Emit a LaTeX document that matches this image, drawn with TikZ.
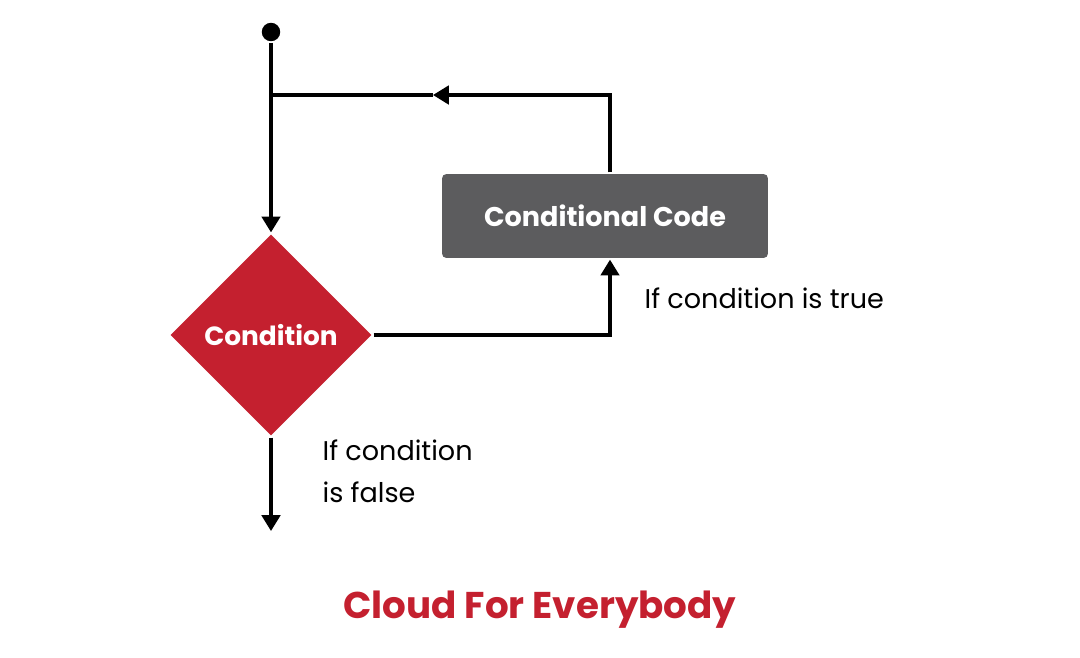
\documentclass[tikz,border=0pt]{standalone}
\usepackage{fontspec}
\setmainfont{Poppins}
\usetikzlibrary{arrows.meta,shapes.geometric}
\definecolor{cfered}{HTML}{C4202F}
\definecolor{codegrey}{HTML}{5C5C5E}

\begin{document}
\begin{tikzpicture}[x=0.02cm,y=-0.02cm,line width=1.9pt,>={Triangle[length=9pt,width=10.5pt]},
  flowline/.style={draw=black,line width=1.9pt},
  lbl/.style={font=\fontsize{15.4}{24}\selectfont,align=left,inner sep=0pt}]
\useasboundingbox (0,0) rectangle (1080,657);
% start
\node[circle,fill=black,inner sep=0pt,minimum size=10.5pt] (start) at (271,32) {};
\coordinate (join) at (271,95);
\coordinate (rt) at (610,95);
\coordinate (mid) at (433,95);
\coordinate (stop) at (271,531);
% condition and code
\node[diamond,fill=cfered,aspect=1,inner sep=0pt,minimum width=4.04cm,minimum height=4.04cm,
  text=white,font=\bfseries\fontsize{15}{18}\selectfont] (cond) at (271,335) {Condition};
\node[rectangle,rounded corners=2.5pt,fill=codegrey,minimum width=6.52cm,minimum height=1.68cm,
  text=white,font=\bfseries\fontsize{15.4}{18}\selectfont] (code) at (605,216) {Conditional Code};
% connectors
\draw[flowline,->] (start) -- (cond.north);
\draw[flowline,->] (code.north -| rt) |- (mid);
\draw[flowline] (mid) -- (join);
\draw[flowline,->] (cond.east) -| (code.south -| rt);
\draw[flowline,->] (cond.south) -- (stop);
% labels
\node[lbl,anchor=west] (truelbl) at (643,298) {If condition is true};
\node[lbl,anchor=north west] (falselbl) at (321,438) {If condition\\is false};
\node[text=cfered,font=\bfseries\fontsize{21.2}{24}\selectfont] (brand) at (540,610) {Cloud For Everybody};
\end{tikzpicture}
\end{document}
